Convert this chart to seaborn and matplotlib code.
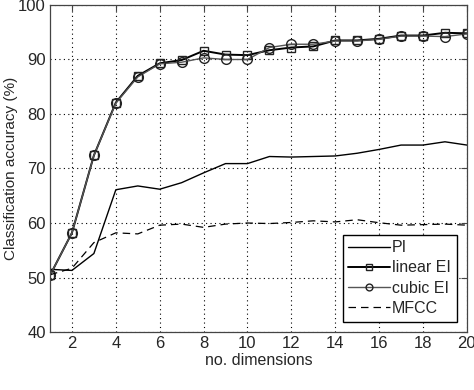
import matplotlib
matplotlib.use('Agg')
import matplotlib.pyplot as plt
import seaborn as sns
import pandas as pd

dims = list(range(1, 21))
pi = [51.5, 51.3, 54.4, 66.1, 66.8, 66.2, 67.4, 69.2, 70.9, 70.9,
      72.2, 72.1, 72.2, 72.3, 72.8, 73.5, 74.3, 74.3, 74.9, 74.3]
linear_ei = [50.4, 58.2, 72.4, 82.1, 87.0, 89.3, 89.9, 91.6, 90.9, 90.8,
             91.7, 92.2, 92.4, 93.5, 93.5, 93.8, 94.4, 94.4, 94.9, 94.8]
cubic_ei = [50.4, 58.2, 72.4, 82.0, 86.8, 89.2, 89.5, 90.3, 90.0, 90.0,
            92.2, 92.8, 92.8, 93.4, 93.4, 93.7, 94.3, 94.3, 94.2, 94.7]
mfcc = [50.5, 51.7, 56.4, 58.2, 58.0, 59.6, 59.8, 59.2, 59.8, 60.0,
        59.9, 60.1, 60.4, 60.2, 60.6, 60.05, 59.6, 59.7, 59.8, 59.6]

sns.set_style('white')
plt.rcParams['font.family'] = ['Liberation Sans', 'DejaVu Sans']

fig = plt.figure(figsize=(4.74, 3.9), dpi=100)
ax = fig.add_axes([0.1055, 0.1487, 0.8795, 0.8385])

sns.lineplot(x=dims, y=pi, ax=ax, color='black', lw=1.0, label='PI')
sns.lineplot(x=dims, y=linear_ei, ax=ax, color='black', lw=1.4, marker='s',
             markersize=6, markerfacecolor='none', markeredgecolor='#222222',
             markeredgewidth=1.0, label='linear EI')
sns.lineplot(x=dims, y=cubic_ei, ax=ax, color='#555555', lw=1.0, marker='o',
             markersize=7, markerfacecolor='none', markeredgecolor='#222222',
             markeredgewidth=1.0, label='cubic EI')
sns.lineplot(x=dims, y=mfcc, ax=ax, color='black', lw=0.9, dashes=(6, 4),
             label='MFCC')

ax.set_xlim(1, 20)
ax.set_ylim(40, 100)
ax.set_xticks(range(2, 21, 2))
ax.set_yticks(range(40, 101, 10))
ax.grid(True, color='black', linestyle=(0, (1, 3)), lw=0.8)
ax.tick_params(direction='in', length=4, labelsize=12, color='#444444',
               top=True, right=True, pad=3)
for s in ax.spines.values():
    s.set_color('#444444')
    s.set_linewidth(0.9)
ax.set_xlabel('no. dimensions', fontsize=11.5, labelpad=1)
ax.set_ylabel('Classification accuracy (%)', fontsize=11, labelpad=0)

leg = ax.legend(loc='lower right', fontsize=11.5, frameon=True, fancybox=False,
                edgecolor='black', framealpha=1, borderpad=0.35,
                handlelength=2.6, handletextpad=0.15, labelspacing=0.33,
                borderaxespad=0.65, markerscale=0.7)
leg.get_frame().set_linewidth(1.0)

fig.savefig('out.png', dpi=100)
